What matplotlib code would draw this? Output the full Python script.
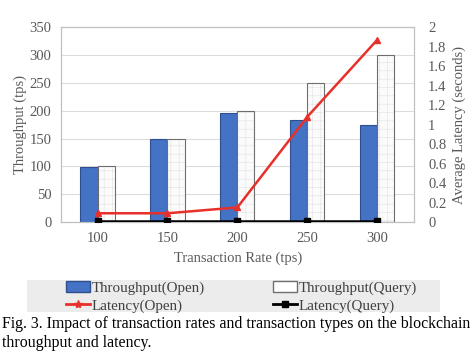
import matplotlib.pyplot as plt
import numpy as np
from matplotlib.patches import Patch, Rectangle
from matplotlib.lines import Line2D

plt.rcParams['font.family'] = ['Liberation Serif', 'DejaVu Serif']
plt.rcParams['hatch.linewidth'] = 0.4

rates = ["100", "150", "200", "250", "300"]
thr_open = [99, 150, 196, 183, 174]
thr_query = [101, 150, 200, 250, 300]
lat_open = [0.09, 0.09, 0.15, 1.08, 1.87]
lat_query = [0.01, 0.01, 0.01, 0.01, 0.01]

txt = "#595959"
W, H = 474, 353
fig = plt.figure(figsize=(4.74, 3.53), dpi=100)
ax = fig.add_axes([0.129, 0.371, 0.745, 0.552])
x = np.arange(len(rates))
w = 0.245

ax.bar(x - w / 2, thr_open, w, color="#4472c4", edgecolor="#2f4f8f", linewidth=0.8, zorder=2)
# fine light grid pattern inside the query bars, then the outline on top
ax.bar(x + w / 2, thr_query, w, color="#fbfbfb", edgecolor="#e2e2e2", linewidth=0,
       hatch="++", zorder=2)
ax.bar(x + w / 2, thr_query, w, fill=False, edgecolor="#6e6e6e", linewidth=0.8, zorder=2)
ax.set_ylim(0, 350)
ax.set_yticks(range(0, 351, 50))
ax.set_xlim(-0.52, 4.53)
ax.set_xticks(x)
ax.set_xticklabels(rates)
ax.grid(axis="y", color="#dcdcdc", linewidth=0.8, zorder=0)
ax.set_axisbelow(True)
for s in ax.spines.values():
    s.set_color("#bfbfbf")
ax.tick_params(length=0, labelsize=10.5, colors=txt, pad=7)
ax.set_ylabel("Throughput (tps)", fontsize=10.5, color=txt, labelpad=2)
ax.set_xlabel("Transaction Rate (tps)", fontsize=10.5, color=txt, labelpad=5)

ax2 = ax.twinx()
ax2.plot(x, lat_open, color="#e8302a", linewidth=1.8, marker="^", markersize=5, zorder=3)
ax2.plot(x, lat_query, color="black", linewidth=1.8, marker="s", markersize=4, zorder=3)
ax2.set_ylim(0, 2)
ax2.set_yticks(np.arange(0, 2.01, 0.2))
ax2.set_yticklabels(["0", "0.2", "0.4", "0.6", "0.8", "1", "1.2", "1.4", "1.6", "1.8", "2"])
ax2.tick_params(length=0, labelsize=10.5, colors=txt, pad=10)
ax2.set_ylabel("Average Latency (seconds)", fontsize=10.5, color=txt, labelpad=4)
for s in ax2.spines.values():
    s.set_color("#bfbfbf")

# gray legend band
fig.patches.append(Rectangle((27 / W, 1 - 312 / H), 413 / W, 32 / H, transform=fig.transFigure,
                             facecolor="#ececec", edgecolor="none", zorder=0))

handles = [
    Patch(facecolor="#4472c4", edgecolor="#2f4f8f"),
    Line2D([], [], color="#e8302a", marker="*", linewidth=2, markersize=6),
    Patch(facecolor="white", edgecolor="#6e6e6e"),
    Line2D([], [], color="black", marker="s", linewidth=2, markersize=4),
]
labels = ["Throughput(Open)", "Latency(Open)", "Throughput(Query)", "Latency(Query)"]
leg = fig.legend(handles, labels, ncol=2, loc="upper left", bbox_to_anchor=(66 / W, 1 - 281 / H),
                 frameon=False, fontsize=10.8, handlelength=1.6, handletextpad=0.1,
                 columnspacing=4.55, labelspacing=0.3, borderpad=0, borderaxespad=0)
for t in leg.get_texts():
    t.set_color("#404040")

fig.text(0.004, 0.083, "Fig. 3. Impact of transaction rates and transaction types on the blockchain",
         fontsize=11.4, va="center")
fig.text(0.004, 0.028, "throughput and latency.", fontsize=11.4, va="center")

fig.savefig("out.png", dpi=100)
